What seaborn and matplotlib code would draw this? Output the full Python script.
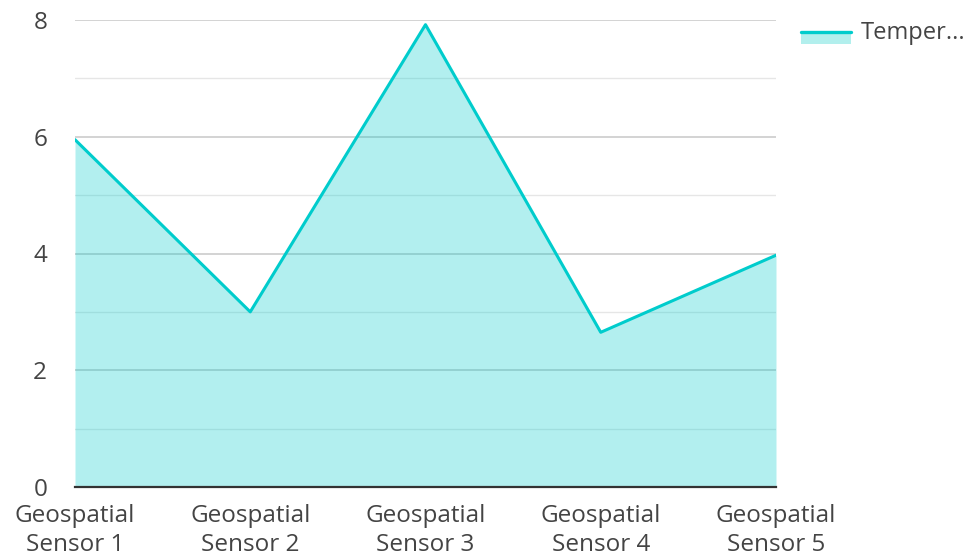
import matplotlib
matplotlib.use("Agg")
import matplotlib.pyplot as plt
import seaborn as sns
import pandas as pd
import numpy as np
from matplotlib.patches import Rectangle
from matplotlib.lines import Line2D

sensors = ["Geospatial\nSensor 1", "Geospatial\nSensor 2", "Geospatial\nSensor 3",
           "Geospatial\nSensor 4", "Geospatial\nSensor 5"]
temperature = [5.95, 3.0, 7.92, 2.65, 3.97]
series_label = "Temper..."
y_ticks = [0, 2, 4, 6, 8]

LINE = "#00cccc"
FILL = "#b2efed"
TEXT = "#444444"
W, H = 966, 558

sns.set_theme(style="white")
plt.rcParams["font.family"] = ["Open Sans", "DejaVu Sans"]

df = pd.DataFrame({"sensor": sensors, "temp": temperature})

fig = plt.figure(figsize=(W / 100, H / 100), dpi=100)
ax = fig.add_axes([75 / W, 1 - 487 / H, (776 - 75) / W, (487 - 20) / H])

# grid: major every 2, minor every 1
for v in np.arange(1, 8, 2):
    ax.axhline(v, color="#e6e6e6", lw=1, zorder=0)
for v in y_ticks[1:]:
    ax.axhline(v, color="#cccccc", lw=1.2, zorder=0)

x = np.arange(len(sensors))
ax.fill_between(x, df["temp"], 0, color="#00cccc", alpha=0.3, lw=0, zorder=1)
sns.lineplot(data=df, x="sensor", y="temp", ax=ax, color=LINE, lw=2.2,
             sort=False, zorder=3)

ax.set_xlim(0, len(sensors) - 1)
ax.set_ylim(0, 8)
ax.set_yticks(y_ticks)
ax.set_yticklabels([str(t) for t in y_ticks])
ax.set_xticks(x)
ax.set_xticklabels(sensors)
ax.tick_params(axis="both", length=0, labelsize=17.5, labelcolor=TEXT)
ax.tick_params(axis="y", pad=20)
ax.tick_params(axis="x", pad=12)
for lbl in ax.get_xticklabels():
    lbl.set_linespacing(1.3)
ax.set_xlabel("")
ax.set_ylabel("")
for s in ["top", "right", "left"]:
    ax.spines[s].set_visible(False)
ax.spines["bottom"].set_color("#333333")
ax.spines["bottom"].set_linewidth(1.6)
ax.spines["bottom"].set_zorder(4)

# legend key: area swatch with its line on top, then the series name
fig.patches.append(Rectangle((801 / W, 1 - 44 / H), 50 / W, 11 / H,
                             facecolor=FILL, edgecolor="none",
                             transform=fig.transFigure, figure=fig))
fig.lines.append(Line2D([801 / W, 851 / W], [1 - 32 / H, 1 - 32 / H],
                        color=LINE, lw=2.4, transform=fig.transFigure, figure=fig))
fig.text(861 / W, 1 - 33 / H, series_label, ha="left", va="center",
         fontsize=17, color=TEXT)

fig.savefig("out.png", dpi=100)
